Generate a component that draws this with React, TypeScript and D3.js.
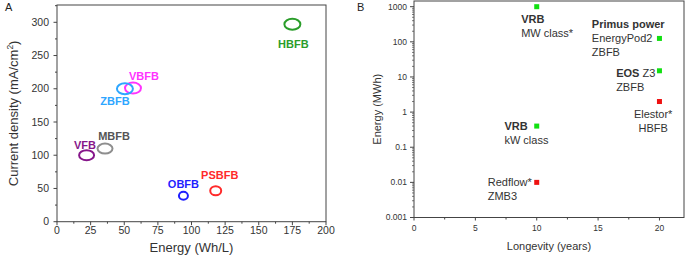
import React from "react";
import * as d3 from "d3";

// ---------- Panel A data ----------
const aNames = ["HBFB", "VBFB", "ZBFB", "VFB", "MBFB", "OBFB", "PSBFB"];
const aEnergy = [175, 56.5, 50.5, 22, 35.7, 94, 118];
const aCurrent = [297, 201, 200, 100, 110, 39, 46.5];
const aColors = ["#2a9d2a", "#ff33ff", "#2ea6ff", "#86168a", "#8e8e8e", "#1f1fff", "#ff2a2a"];
const aTextColors = ["#2a9d2a", "#ff33ff", "#2ea6ff", "#86168a", "#555555", "#1f1fff", "#ff2a2a"];
const aXTicks = [0, 25, 50, 75, 100, 125, 150, 175, 200];
const aYTicks = [0, 50, 100, 150, 200, 250, 300];

// ---------- Panel B data ----------
const bLongevity = [10, 20, 20, 20, 10, 10];
const bEnergy = [1000, 125, 15, 2, 0.4, 0.01];
const bColors = ["#11e011", "#11e011", "#11e011", "#ee1111", "#11e011", "#ee1111"];
const bLabels: { text: string; bold?: boolean }[][][] = [
  [[{ text: "VRB", bold: true }], [{ text: "MW class*" }]],
  [[{ text: "Primus power", bold: true }], [{ text: "EnergyPod2" }], [{ text: "ZBFB" }]],
  [[{ text: "EOS", bold: true }, { text: " Z3" }], [{ text: "ZBFB" }]],
  [[{ text: "Elestor*" }], [{ text: "HBFB" }]],
  [[{ text: "VRB", bold: true }], [{ text: "kW class" }]],
  [[{ text: "Redflow*" }], [{ text: "ZMB3" }]],
];
const bXTicks = [0, 5, 10, 15, 20];
const bYTicks = [0.001, 0.01, 0.1, 1, 10, 100, 1000];
const bYTickLabels = ["0.001", "0.01", "0.1", "1", "10", "100", "1000"];

// ---------- layout (pixels) ----------
const aLabelOffsets = [[1, 20], [11, -12], [-10, 12], [-1.6, -10.5], [9, -12], [0, -12], [4, -16]];
const aEllipse = [[8, 5.5], [8, 5.5], [8, 5.5], [7.5, 5], [7.5, 5], [4.5, 4], [5.5, 4.5]];
const bLabelLayout: { dx: number; dy: number; anchor: string }[] = [
  { dx: -15.6, dy: 12.6, anchor: "start" },
  { dx: -67.6, dy: -14, anchor: "start" },
  { dx: -43.3, dy: 2.3, anchor: "start" },
  { dx: -6.3, dy: 12.3, anchor: "middle" },
  { dx: -32.3, dy: 0, anchor: "start" },
  { dx: -49, dy: 0, anchor: "start" },
];

const FONT = "Liberation Sans, Arial, sans-serif";
const AXIS = "#444";
const TXT = "#333";

function PanelA() {
  const x = d3.scaleLinear().domain([0, 200]).range([57, 326]);
  const y = d3.scaleLinear().domain([0, 300]).range([221.7, 22.3]);
  const top = 5;
  const bottom = y(0);
  const minorX = d3.range(12.5, 200, 25);
  const minorY = d3.range(25, 326, 50);
  return (
    <g fontFamily={FONT}>
      <text x={5} y={11} fontSize={11} fill="#222">A</text>
      <rect x={x(0)} y={top} width={x(200) - x(0)} height={bottom - top} fill="none" stroke={AXIS} strokeWidth={1} />
      {aXTicks.map((t) => (
        <g key={"ax" + t}>
          <line x1={x(t)} x2={x(t)} y1={bottom} y2={bottom + 3.5} stroke={AXIS} />
          <text x={x(t)} y={bottom + 12.5} textAnchor="middle" fontSize={10.5} fill={TXT}>{t}</text>
        </g>
      ))}
      {minorX.map((t) => (
        <line key={"amx" + t} x1={x(t)} x2={x(t)} y1={bottom} y2={bottom + 2} stroke={AXIS} />
      ))}
      {aYTicks.map((t) => (
        <g key={"ay" + t}>
          <line x1={x(0) - 3.5} x2={x(0)} y1={y(t)} y2={y(t)} stroke={AXIS} />
          <text x={x(0) - 8} y={y(t)} dy="0.35em" textAnchor="end" fontSize={10.5} fill={TXT}>{t}</text>
        </g>
      ))}
      {minorY.map((t) => (
        <line key={"amy" + t} x1={x(0) - 2} x2={x(0)} y1={y(t)} y2={y(t)} stroke={AXIS} />
      ))}
      <text x={(x(0) + x(200)) / 2} y={252} textAnchor="middle" fontSize={13} fill={TXT}>Energy (Wh/L)</text>
      <text transform={`translate(17.5,${(top + bottom) / 2}) rotate(-90)`} textAnchor="middle" fontSize={13} fill={TXT}>
        Current density (mA/cm<tspan dy={-5} fontSize={8.5}>2</tspan><tspan dy={5}>)</tspan>
      </text>
      {aNames.map((n, i) => {
        const cx = x(aEnergy[i]);
        const cy = y(aCurrent[i]);
        return (
          <g key={n}>
            <ellipse cx={cx} cy={cy} rx={aEllipse[i][0]} ry={aEllipse[i][1]} fill="none" stroke={aColors[i]} strokeWidth={2} />
            <text x={cx + aLabelOffsets[i][0]} y={cy + aLabelOffsets[i][1]} dy="0.35em" textAnchor="middle" fontSize={11} fontWeight="bold" fill={aTextColors[i]}>{n}</text>
          </g>
        );
      })}
    </g>
  );
}

function PanelB() {
  const x = d3.scaleLinear().domain([0, 22]).range([414, 684]);
  const y = d3.scaleLog().domain([0.001, 1000]).range([217.5, 6.7]);
  const top = 1;
  const bottom = y(0.001);
  const minorX = d3.range(2.5, 22, 5);
  const minorY: number[] = [];
  for (let e = -3; e < 3; e++) for (let m = 2; m < 10; m++) minorY.push(m * Math.pow(10, e));
  return (
    <g fontFamily={FONT}>
      <text x={357} y={11} fontSize={11} fill="#222">B</text>
      <rect x={x(0)} y={top} width={x(22) - x(0)} height={bottom - top} fill="none" stroke={AXIS} strokeWidth={1} />
      {bXTicks.map((t) => (
        <g key={"bx" + t}>
          <line x1={x(t)} x2={x(t)} y1={bottom} y2={bottom + 3} stroke={AXIS} />
          <text x={x(t)} y={bottom + 11} dy="0.35em" textAnchor="middle" fontSize={8.5} fill={TXT}>{t}</text>
        </g>
      ))}
      {minorX.map((t) => (
        <line key={"bmx" + t} x1={x(t)} x2={x(t)} y1={bottom} y2={bottom + 2} stroke={AXIS} />
      ))}
      {bYTicks.map((t, i) => (
        <g key={"by" + t}>
          <line x1={x(0) - 4} x2={x(0)} y1={y(t)} y2={y(t)} stroke={AXIS} />
          <text x={x(0) - 7} y={y(t)} dy="0.35em" textAnchor="end" fontSize={8.5} fill={TXT}>{bYTickLabels[i]}</text>
        </g>
      ))}
      {minorY.map((t) => (
        <line key={"bmy" + t} x1={x(0) - 2} x2={x(0)} y1={y(t)} y2={y(t)} stroke={AXIS} strokeWidth={0.7} />
      ))}
      <text x={(x(0) + x(22)) / 2} y={250} textAnchor="middle" fontSize={11} fill={TXT}>Longevity (years)</text>
      <text transform={`translate(381,${(top + bottom) / 2}) rotate(-90)`} textAnchor="middle" fontSize={11} fill={TXT}>Energy (MWh)</text>
      {bEnergy.map((v, i) => {
        const px = x(bLongevity[i]);
        const py = y(v);
        const L = bLabelLayout[i];
        return (
          <g key={"bp" + i}>
            <rect x={px - 2.5} y={py - 2.5} width={5} height={5} fill={bColors[i]} />
            {bLabels[i].map((line, j) => (
              <text key={j} x={px + L.dx} y={py + L.dy + j * 14} dy="0.35em" textAnchor={L.anchor} fontSize={11} fill={TXT}>
                {line.map((s, k) => (
                  <tspan key={k} fontWeight={s.bold ? "bold" : "normal"}>{s.text}</tspan>
                ))}
              </text>
            ))}
          </g>
        );
      })}
    </g>
  );
}

export default function App() {
  return (
    <svg width={685} height={261} style={{ position: "absolute", left: 0, top: 0, background: "#fff" }}>
      <rect width={685} height={261} fill="#fff" />
      <PanelA />
      <PanelB />
    </svg>
  );
}
